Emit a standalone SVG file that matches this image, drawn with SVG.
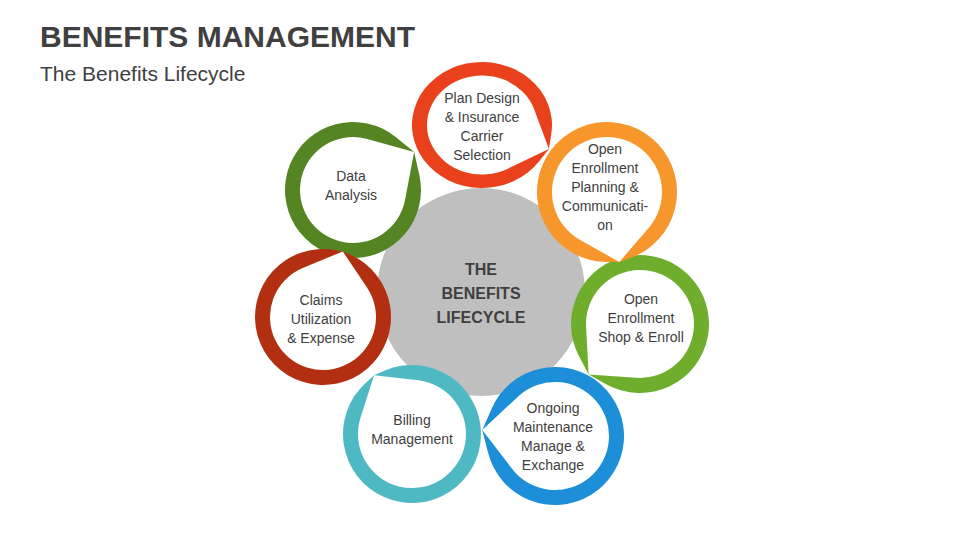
<svg xmlns="http://www.w3.org/2000/svg" width="960" height="540" viewBox="0 0 960 540">
<style>
.t{font-family:"Liberation Sans",Arial,sans-serif;font-size:14px;fill:#404040;text-anchor:middle}
.c{font-family:"Liberation Sans",Arial,sans-serif;font-size:16px;font-weight:bold;fill:#404040;text-anchor:middle}
.w{fill:#FFFFFF}
</style>
<rect width="960" height="540" fill="#FFFFFF"/>
<text x="40" y="47" font-family="'Liberation Sans',Arial,sans-serif" font-size="30" font-weight="bold" fill="#404040">BENEFITS MANAGEMENT</text>
<text x="40" y="81" font-family="'Liberation Sans',Arial,sans-serif" font-size="21" fill="#404040">The Benefits Lifecycle</text>

<g id="center">
  <circle cx="481" cy="292" r="104" fill="#BFBFBF"/>
  <text class="c"><tspan x="481" y="275">THE</tspan><tspan x="481" y="299">BENEFITS</tspan><tspan x="481" y="323">LIFECYCLE</tspan></text>
</g>

<g id="connectors"></g>

<g id="node-data-analysis">
  <g transform="translate(353,190) rotate(-31.9)">
    <path fill="#558423" d="M72,0 L64.22,22.37 A68,68 0 1 1 64.22,-22.37 Z"/>
    <path class="w" d="M72,0 L39.01,35.88 A53,53 0 1 1 39.01,-35.88 Z"/>
  </g>
  <text class="t"><tspan x="351" y="181">Data</tspan><tspan x="351" y="200">Analysis</tspan></text>
</g>

<g id="node-plan-design">
  <g transform="translate(482,125) scale(1,0.9) rotate(21.7)">
    <path fill="#E9411B" d="M72,0 L68.06,16.33 A70,70 0 1 1 68.06,-16.33 Z"/>
    <path class="w" d="M72,0 L42.01,35.5 A55,55 0 1 1 42.01,-35.5 Z"/>
  </g>
  <text class="t"><tspan x="482" y="103">Plan Design</tspan><tspan x="482" y="122">&amp; Insurance</tspan><tspan x="482" y="141">Carrier</tspan><tspan x="482" y="160">Selection</tspan></text>
</g>

<g id="node-open-enrollment-shop">
  <g transform="translate(640,324) rotate(135.5)">
    <path fill="#6FAE2D" d="M72,0 L66.13,19.71 A69,69 0 1 1 66.13,-19.71 Z"/>
    <path class="w" d="M72,0 L40.5,35.72 A54,54 0 1 1 40.5,-35.72 Z"/>
  </g>
  <text class="t"><tspan x="641" y="304">Open</tspan><tspan x="641" y="323">Enrollment</tspan><tspan x="641" y="342">Shop &amp; Enroll</tspan></text>
</g>

<g id="node-open-enrollment-planning">
  <g transform="translate(607,192) rotate(80)">
    <path fill="#F7962B" d="M71,0 L69.01,11.67 A70,70 0 1 1 69.01,-11.67 Z"/>
    <path class="w" d="M71,0 L42.61,34.78 A55,55 0 1 1 42.61,-34.78 Z"/>
  </g>
  <text class="t"><tspan x="605" y="154">Open</tspan><tspan x="605" y="173">Enrollment</tspan><tspan x="605" y="192">Planning &amp;</tspan><tspan x="605" y="211">Communicati-</tspan><tspan x="605" y="230">on</tspan></text>
</g>

<g id="node-ongoing-maintenance">
  <g transform="translate(555,436) rotate(184.7)">
    <path fill="#1D8FD9" d="M73,0 L65.22,22.47 A69,69 0 1 1 65.22,-22.47 Z"/>
    <path class="w" d="M73,0 L39.95,36.34 A54,54 0 1 1 39.95,-36.34 Z"/>
  </g>
  <text class="t"><tspan x="553" y="413">Ongoing</tspan><tspan x="553" y="432">Maintenance</tspan><tspan x="553" y="451">Manage &amp;</tspan><tspan x="553" y="470">Exchange</tspan></text>
</g>

<g id="node-billing-management">
  <g transform="translate(412,434) rotate(-122.8)">
    <path fill="#4FB9C3" d="M70,0 L68.01,11.63 A69,69 0 1 1 68.01,-11.63 Z"/>
    <path class="w" d="M70,0 L41.66,34.35 A54,54 0 1 1 41.66,-34.35 Z"/>
  </g>
  <text class="t"><tspan x="412" y="425">Billing</tspan><tspan x="412" y="444">Management</tspan></text>
</g>

<g id="node-claims">
  <g transform="translate(323,317) rotate(-73.2)">
    <path fill="#B22F11" d="M68.5,0 L67.5,8.17 A68,68 0 1 1 67.5,-8.17 Z"/>
    <path class="w" d="M68.5,0 L41.01,33.58 A53,53 0 1 1 41.01,-33.58 Z"/>
  </g>
  <text class="t"><tspan x="321" y="305">Claims</tspan><tspan x="321" y="324">Utilization</tspan><tspan x="321" y="343">&amp; Expense</tspan></text>
</g>
</svg>
